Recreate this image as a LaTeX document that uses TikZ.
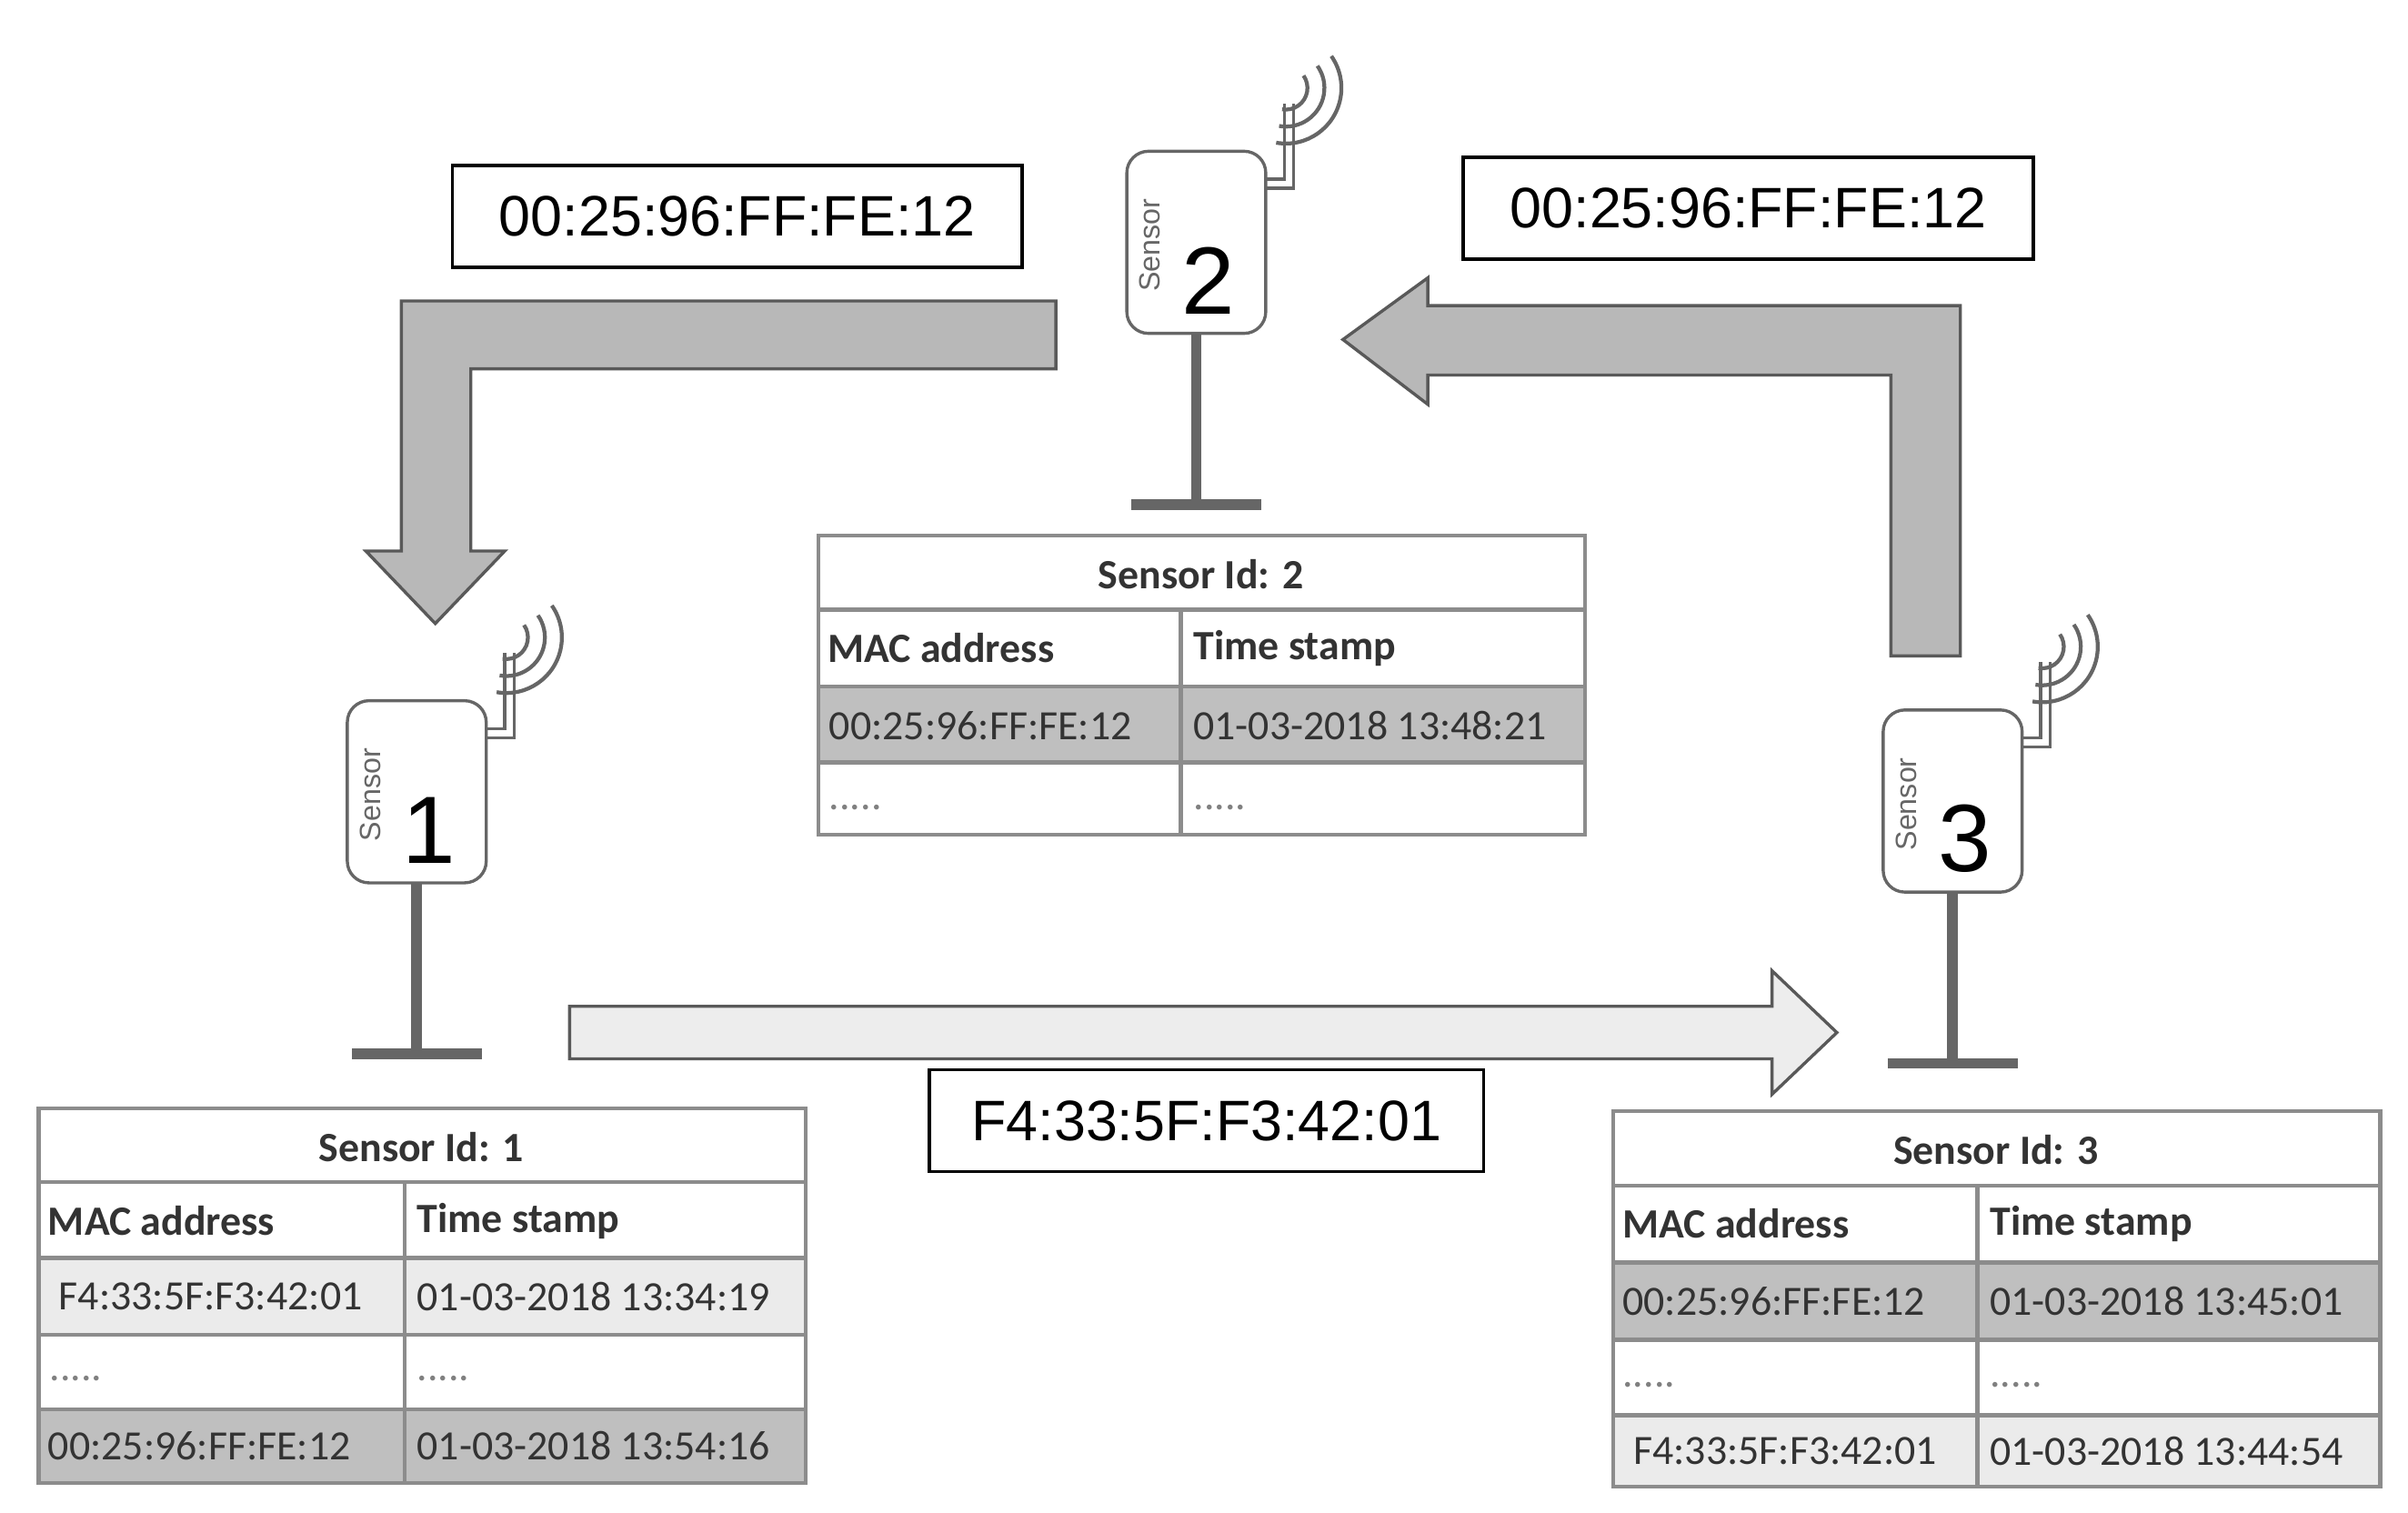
\documentclass[tikz,border=0pt]{standalone}
\usepackage{fontspec}
\setmainfont{Liberation Sans}
\newfontfamily\calfnt{Carlito}
\newcommand\tabl[5]{% name, x, y, id, split
  \node[font=\calfnt\bfseries\fontsize{27}{30}\selectfont,text=black!80] (#1t) at (#2+248,#3+25) {Sensor Id: #4};
  \node[cell] (#1h1) at (#2+6,#3+73) {MAC address};
  \node[cell] (#1h2) at (#2+#5+8,#3+73) {Time stamp};
}
\begin{document}
\begin{tikzpicture}[x=1pt,y=-1pt,
  lbl/.style={draw=black,line width=2.2pt,minimum width=369pt,minimum height=66pt,font=\fontsize{37}{40}\selectfont,anchor=north west,inner sep=0pt},
  bigarrow/.style={draw=black!65,line width=2pt,fill=black!28},
  lightarrow/.style={draw=black!65,line width=2pt,fill=black!7},
  body/.style={draw=black!60,line width=2pt,rounded corners=14pt,fill=white},
  pole/.style={draw=black!60,line width=7pt},
  ant/.style={draw=black!60,line width=2pt,double=white,double distance=4pt},
  wave/.style={draw=black!60,line width=2.5pt},
  tline/.style={draw=black!45,line width=2.5pt},
  cell/.style={font=\calfnt\bfseries\fontsize{27}{30}\selectfont,text=black!80,anchor=west,inner sep=0pt},
  val/.style={cell,font=\calfnt\fontsize{27}{30}\selectfont},
  dots/.style={font=\calfnt\fontsize{27}{30}\selectfont,text=black!50,anchor=west,inner sep=0pt}]
\useasboundingbox (0,0) rectangle (1560,980);

% label boxes
\node[lbl] (l1) at (292,106) {00:25:96:FF:FE:12};
\node[lbl] (l2) at (947,101) {00:25:96:FF:FE:12};
\node[lbl,minimum width=359pt] (l3) at (601,692) {F4:33:5F:F3:42:01};

% arrows
\draw[bigarrow] (684,195) -- (260,195) -- (260,357) -- (237,357) -- (282,404) -- (327,357) -- (305,357) -- (305,239) -- (684,239) -- cycle;
\draw[bigarrow] (1225,425) -- (1225,243) -- (925,243) -- (925,262) -- (870,220) -- (925,180) -- (925,198) -- (1270,198) -- (1270,425) -- cycle;
\draw[lightarrow] (369,652) -- (1148,652) -- (1148,629) -- (1190,669) -- (1148,709) -- (1148,686) -- (369,686) -- cycle;

% sensors
\foreach \n/\cx/\ty in {1/270/453, 2/775/97, 3/1265/459} {
  \draw[pole] (\cx,\ty+100) -- (\cx,\ty+228);
  \draw[pole] (\cx-42,\ty+230) -- (\cx+42,\ty+230);
  \draw[ant] (\cx+40,\ty+22) -- (\cx+60,\ty+22) -- (\cx+60,\ty-30);
  \foreach \r in {14,25,36}
    \draw[wave] ([shift={(100:\r)}]\cx+58,\ty-40) arc[start angle=100,end angle=-35,radius=\r];
  \node[body,minimum width=90pt,minimum height=118pt,anchor=north] (s\n) at (\cx,\ty) {};
  \node[font=\fontsize{62}{62}\selectfont,anchor=south] (n\n) at (\cx+8,\ty+110) {\n};
  \node[font=\fontsize{19}{20}\selectfont,text=black!60,rotate=90] (t\n) at (\cx-30,\ty+62) {Sensor};
}

% table 1
\fill[black!8] (25,815) rectangle (522,865);
\fill[black!25] (25,913) rectangle (522,961);
\draw[tline] (25,718) rectangle (522,961);
\foreach \yy in {766,815,865,913} \draw[tline] (25,\yy) -- (522,\yy);
\draw[tline] (262,766) -- (262,961);
\tabl{a}{25}{718}{1}{237}
\node[val] (a1) at (38,840) {F4:33:5F:F3:42:01};
\node[val] (a2) at (270,840) {01-03-2018 13:34:19};
\node[dots] (a3) at (32,893) {.....};
\node[dots] (a4) at (270,893) {.....};
\node[val] (a5) at (31,937) {00:25:96:FF:FE:12};
\node[val] (a6) at (270,937) {01-03-2018 13:54:16};
% table 2
\fill[black!25] (530,445) rectangle (1027,494);
\draw[tline] (530,347) rectangle (1027,541);
\foreach \yy in {395,445,494} \draw[tline] (530,\yy) -- (1027,\yy);
\draw[tline] (765,395) -- (765,541);
\tabl{b}{530}{347}{2}{235}
\node[val] (b1) at (537,470) {00:25:96:FF:FE:12};
\node[val] (b2) at (773,470) {01-03-2018 13:48:21};
\node[dots] (b3) at (537,523) {.....};
\node[dots] (b4) at (773,523) {.....};
% table 3
\fill[black!25] (1045,818) rectangle (1542,868);
\fill[black!8] (1045,917) rectangle (1542,963);
\draw[tline] (1045,720) rectangle (1542,963);
\foreach \yy in {768,818,868,917} \draw[tline] (1045,\yy) -- (1542,\yy);
\draw[tline] (1281,768) -- (1281,963);
\tabl{c}{1045}{720}{3}{236}
\node[val] (c1) at (1051,843) {00:25:96:FF:FE:12};
\node[val] (c2) at (1289,843) {01-03-2018 13:45:01};
\node[dots] (c3) at (1051,897) {.....};
\node[dots] (c4) at (1289,897) {.....};
\node[val] (c5) at (1058,940) {F4:33:5F:F3:42:01};
\node[val] (c6) at (1289,940) {01-03-2018 13:44:54};
\end{tikzpicture}
\end{document}
